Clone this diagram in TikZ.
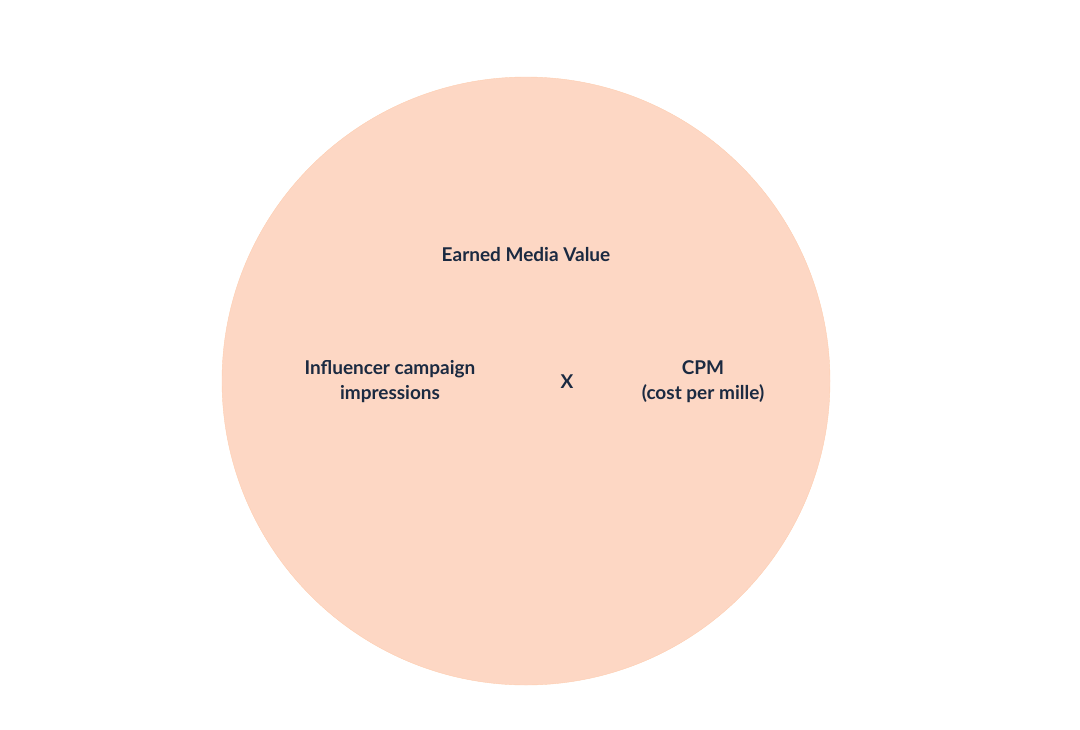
\documentclass[tikz,border=0pt]{standalone}
\usepackage{fontspec}
\setmainfont{Lato}
\usetikzlibrary{positioning}
\definecolor{PeachFill}{HTML}{FDD7C4}
\definecolor{NavyText}{HTML}{1B2A41}
\tikzset{
  label text/.style={text=NavyText,font=\fontsize{19}{25}\selectfont\bfseries,align=center}
}
\begin{document}
\begin{tikzpicture}[x=1pt,y=-1pt]
  \useasboundingbox (0,0) rectangle (1080,729);

  % the circle
  \node[circle,fill=PeachFill,draw=PeachFill!90!orange,minimum size=608pt,inner sep=0pt] (Disc) at (526,381) {};

  % the formula
  \node[label text] (Title) at (526,255) {Earned Media Value};
  \node[label text] (Impr) at (390,382) {Influencer campaign\\impressions};
  \node[label text] (Times) at (567,382) {X};
  \node[label text] (Cpm) at (703,382) {CPM\\(cost per mille)};
\end{tikzpicture}
\end{document}
